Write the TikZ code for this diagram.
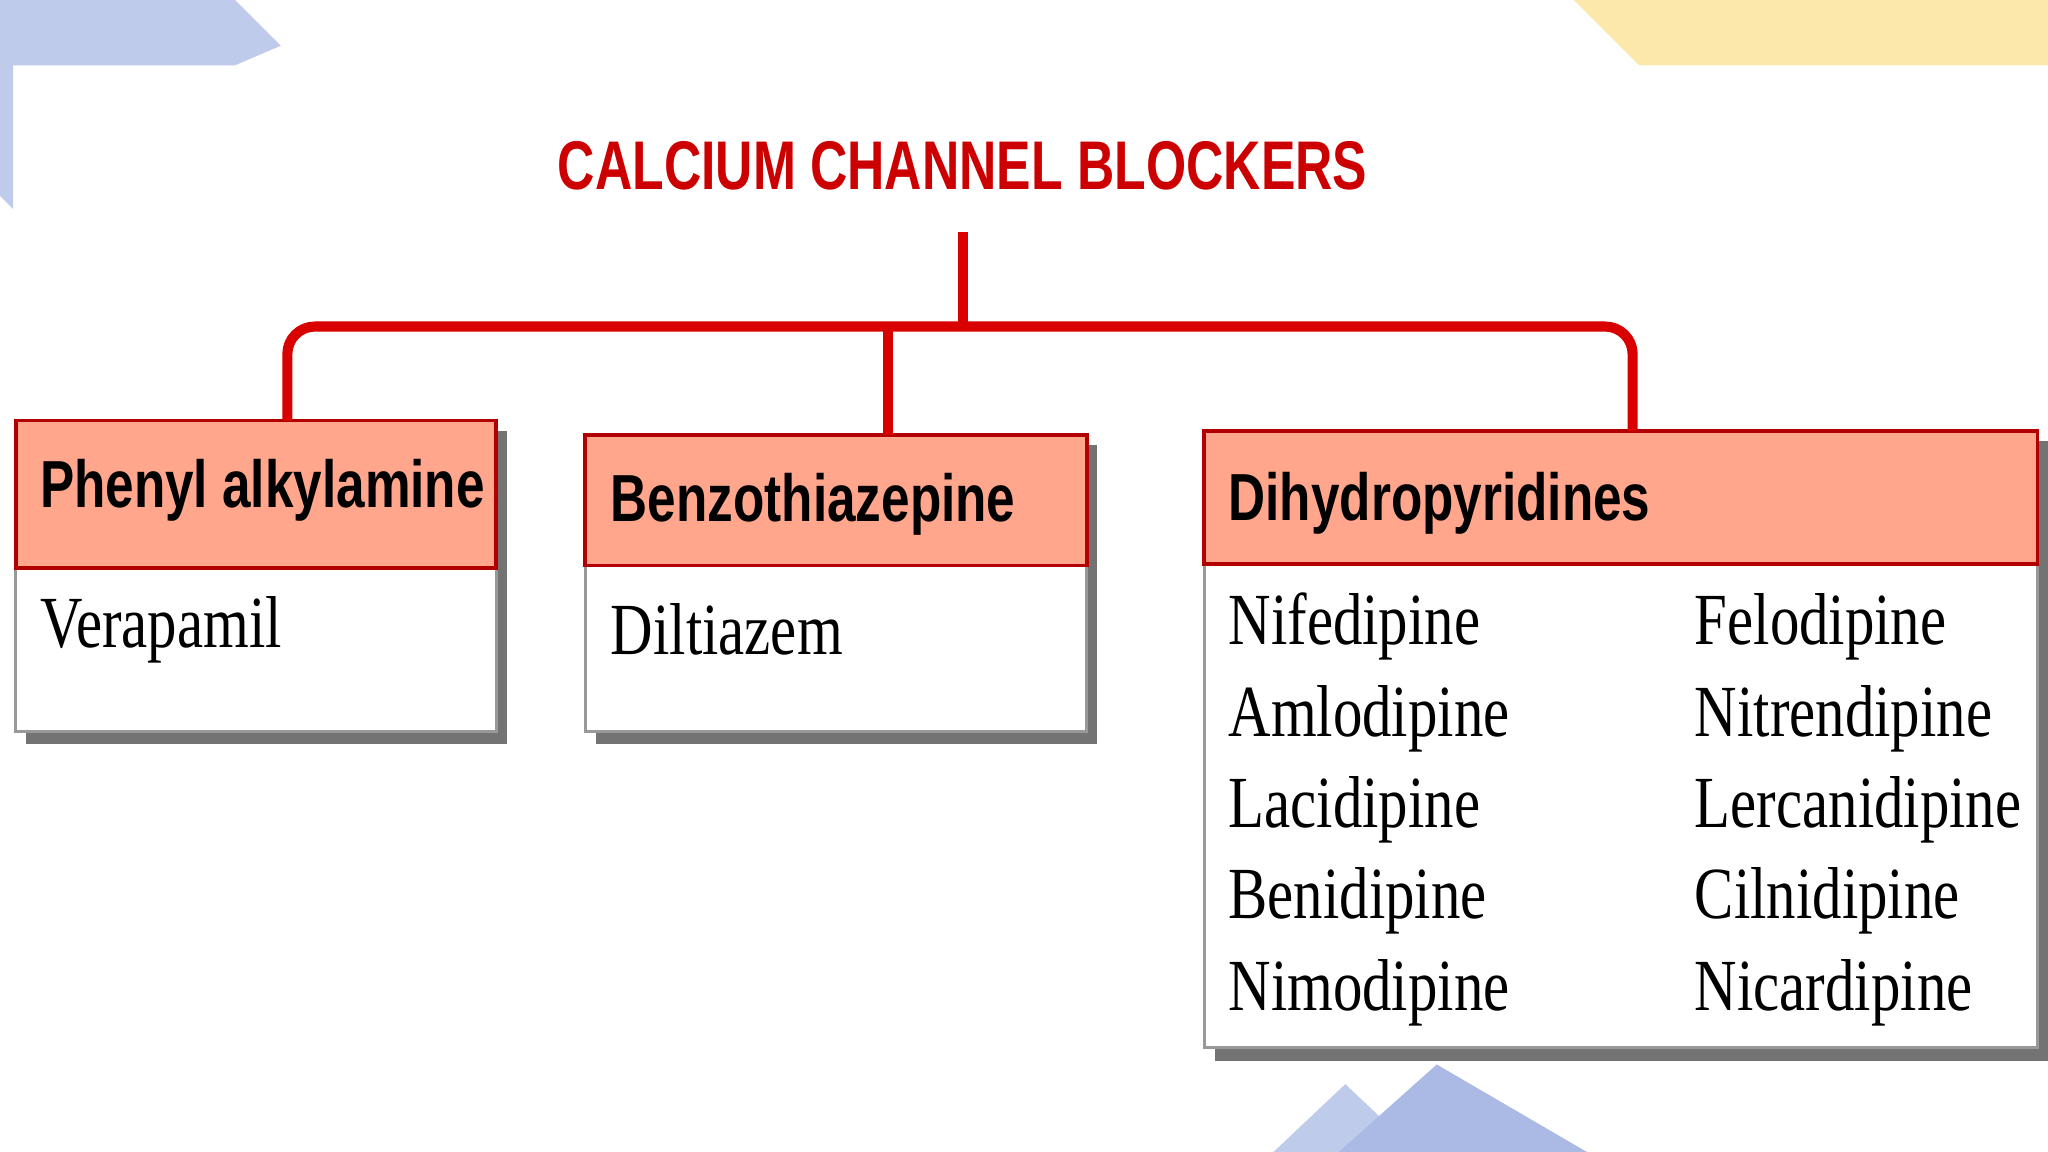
\documentclass[tikz,border=0pt]{standalone}
\usepackage{fontspec}
\newfontfamily\drg{Liberation Serif}[FakeStretch=0.8]
\newfontfamily\hdr{Liberation Sans}[FakeStretch=0.77]
\newfontfamily\ttl{Liberation Sans}[FakeStretch=0.75]
\begin{document}
\begin{tikzpicture}[x=0.01cm,y=-0.01cm,
 hd/.style={anchor=west,font=\hdr\bfseries\fontsize{14.5}{17}\selectfont,inner sep=0},
 dr/.style={anchor=west,font=\drg\fontsize{16}{19}\selectfont,inner sep=0},
 conn/.style={draw=red!85!black,line width=2.2pt,rounded corners=6pt},
 shadow/.style={fill=black!55},
 body/.style={fill=white,draw=black!40,line width=0.6pt},
 head/.style={fill=orange!45!red!45!white,draw=red!70!black,line width=0.8pt}]
\useasboundingbox (0,0) rectangle (1568,882);
\definecolor{deco}{RGB}{190,203,235}
\definecolor{deco2}{RGB}{170,186,228}
\definecolor{yel}{RGB}{252,232,170}
\fill[deco] (0,0)--(180,0)--(215,35)--(180,50)--(10,50)--(10,160)--(0,150)--cycle;
\fill[yel] (1205,0)--(1568,0)--(1568,50)--(1255,50)--cycle;
\fill[deco] (975,882)--(1030,830)--(1085,882)--cycle;
\fill[deco2] (1025,882)--(1100,815)--(1215,882)--cycle;
\node[font=\ttl\bfseries\fontsize{15}{18}\selectfont,text=red!80!black] (title) at (737,127) {CALCIUM CHANNEL BLOCKERS};
% boxes
\fill[shadow] (20,330) rectangle (388,570);
\draw[body] (12,435) rectangle (380,560);
\draw[head] (12,322) rectangle (380,435);
\fill[shadow] (456,341) rectangle (840,570);
\draw[body] (448,433) rectangle (832,560);
\draw[head] (448,333) rectangle (832,433);
\fill[shadow] (930,338) rectangle (1568,812);
\draw[body] (922,432) rectangle (1560,802);
\draw[head] (922,330) rectangle (1560,432);
\coordinate (b1) at (220,322);
\coordinate (b2) at (680,333);
\coordinate (b3) at (1250,330);
\coordinate (t) at (737,178);
\draw[conn] (t) -- (737,248);
\draw[conn] (b1) -- (220,250) -- (1250,250) -- (b3);
\draw[conn] (680,250) -- (b2);
\node[hd] (h1) at (30,375) {Phenyl alkylamine};
\node[hd] (h2) at (467,386) {Benzothiazepine};
\node[hd] (h3) at (940,385) {Dihydropyridines};
\node[dr] (d1) at (30,482) {Verapamil};
\node[dr] (d2) at (467,482) {Diltiazem};
\foreach \n/\a/\b [count=\i] in {0/Nifedipine/Felodipine,1/Amlodipine/Nitrendipine,2/Lacidipine/Lercanidipine,3/Benidipine/Cilnidipine,4/Nimodipine/Nicardipine}{
 \node[dr] (l\i) at (940,480+70*\n) {\a};
 \node[dr] (r\i) at (1297,480+70*\n) {\b};
}
\end{tikzpicture}
\end{document}
